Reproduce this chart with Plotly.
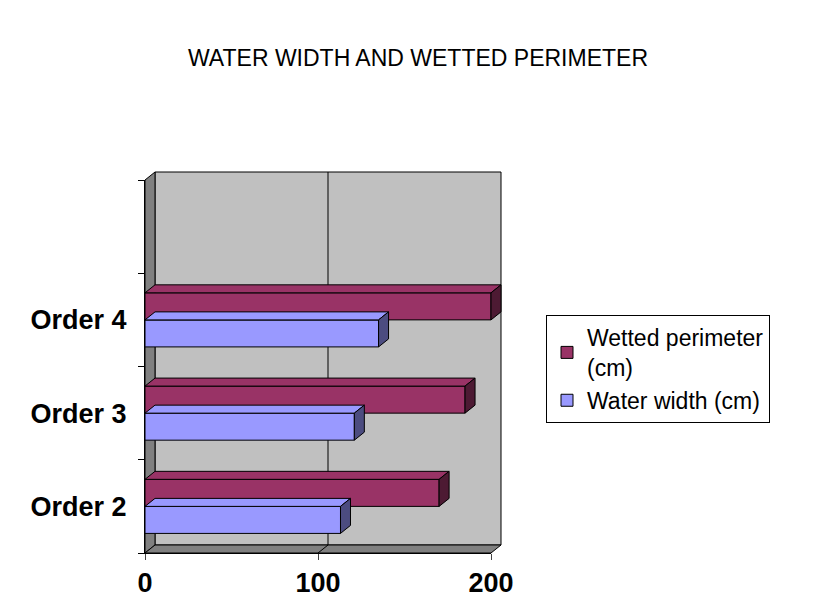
import plotly.graph_objects as go

categories = ["Order 2", "Order 3", "Order 4"]
water_width = [113, 121, 135]
wetted_perimeter = [170, 185, 200]

WET_COLOR = "#993366"
WET_SIDE = "#4d1a33"
WATER_COLOR = "#9999FF"
WATER_SIDE = "#4c4c80"

XMAX = 200
YMIN, YMAX = -0.5, 3.5
ypos = list(range(len(categories)))
bar_h = 0.29
wx, wy = 10 / 346, 8 / 373  # depth offset in paper units


def px_(v):
    return v / XMAX


def py_(y):
    return (y - YMIN) / (YMAX - YMIN)


fig = go.Figure()
fig.add_trace(go.Bar(y=ypos, x=water_width, orientation="h", name="Water width (cm)",
                     marker=dict(color=WATER_COLOR, line=dict(color="black", width=1)),
                     width=bar_h, offset=-bar_h))
fig.add_trace(go.Bar(y=ypos, x=wetted_perimeter, orientation="h", name="Wetted perimeter<br>(cm)",
                     marker=dict(color=WET_COLOR, line=dict(color="black", width=1)),
                     width=bar_h, offset=0))

shapes = []
# walls
shapes.append(dict(type="path", xref="paper", yref="paper", layer="below",
                   path=f"M {wx},{wy} L {1+wx},{wy} L {1+wx},{1+wy} L {wx},{1+wy} Z",
                   fillcolor="#c0c0c0", line=dict(color="black", width=1)))
shapes.append(dict(type="path", xref="paper", yref="paper", layer="below",
                   path=f"M 0,0 L {wx},{wy} L {wx},{1+wy} L 0,1 Z",
                   fillcolor="#808080", line=dict(color="black", width=1)))
shapes.append(dict(type="path", xref="paper", yref="paper", layer="below",
                   path=f"M 0,0 L {wx},{wy} L {1+wx},{wy} L 1,0 Z",
                   fillcolor="#808080", line=dict(color="black", width=1)))
g = px_(100)
shapes.append(dict(type="path", xref="paper", yref="paper", layer="below",
                   path=f"M {g},0 L {g+wx},{wy} L {g+wx},{1+wy}",
                   line=dict(color="black", width=1)))

# 3D faces of bars
for vals, main, side, lower in [(water_width, WATER_COLOR, WATER_SIDE, True),
                                (wetted_perimeter, WET_COLOR, WET_SIDE, False)]:
    for yy, v in zip(ypos, vals):
        b, t = (yy - bar_h, yy) if lower else (yy, yy + bar_h)
        b, t, x = py_(b), py_(t), px_(v)
        shapes.append(dict(type="path", xref="paper", yref="paper",
                           path=f"M 0,{t} L {x},{t} L {x+wx},{t+wy} L {wx},{t+wy} Z",
                           fillcolor=main, line=dict(color="black", width=1)))
        shapes.append(dict(type="path", xref="paper", yref="paper",
                           path=f"M {x},{t} L {x+wx},{t+wy} L {x+wx},{b+wy} L {x},{b} Z",
                           fillcolor=side, line=dict(color="black", width=1)))

fig.update_layout(
    width=820, height=605,
    margin=dict(l=137, r=337, t=172, b=60, autoexpand=False),
    paper_bgcolor="white", plot_bgcolor="rgba(0,0,0,0)",
    barmode="overlay",
    shapes=shapes,
    font=dict(family="Liberation Sans, Arial", color="black"),
    title=dict(text="WATER WIDTH AND WETTED PERIMETER", x=0.5, xanchor="center",
               y=1 - 50 / 605, yanchor="middle", font=dict(size=23)),
    showlegend=True,
    legend=dict(x=(538 - 137) / 346, y=(545 - 307) / 373,
                xanchor="left", yanchor="top", traceorder="reversed",
                bordercolor="black", borderwidth=1, bgcolor="white",
                font=dict(size=23), itemwidth=30, tracegroupgap=0),
    xaxis=dict(range=[0, XMAX], tickvals=[0, 100, 200], showgrid=False, zeroline=False,
               showline=True, linecolor="black", ticks="outside", ticklen=6,
               automargin=False,
               tickfont=dict(size=27, weight="bold")),
    yaxis=dict(range=[YMIN, YMAX], tickvals=ypos, ticktext=categories,
               showgrid=False, zeroline=False, showline=True, linecolor="black",
               ticks="", tickfont=dict(size=27, weight="bold"), ticklabelstandoff=12,
               automargin=False,
               minor=dict(tickvals=[-0.5, 0.5, 1.5, 2.5, 3.5], ticks="outside",
                          ticklen=6, tickcolor="black", showgrid=False)),
)

fig.write_html("out.html")
